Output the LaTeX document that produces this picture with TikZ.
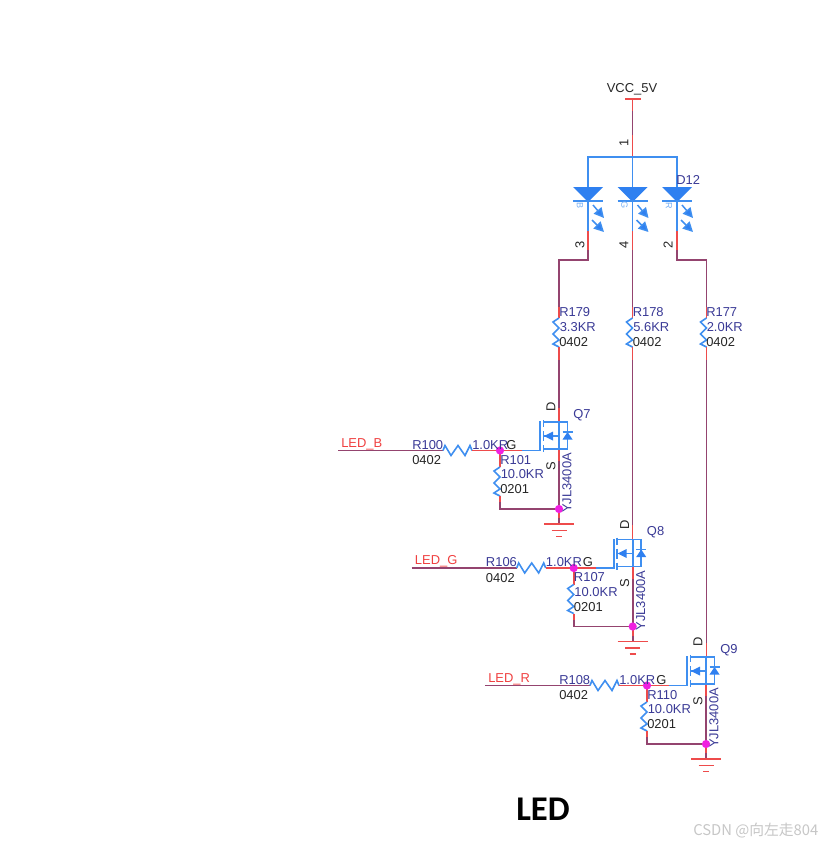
\documentclass[tikz,border=0pt]{standalone}
\usepackage{fontspec}
\setmainfont{Liberation Sans}
\newfontfamily\ledfont{Carlito}
\newfontfamily\cjkwm{Noto Sans CJK SC}
\usetikzlibrary{arrows.meta}
\definecolor{plum}{HTML}{94446F}
\definecolor{redw}{HTML}{EE4B4B}
\definecolor{bluew}{HTML}{3F8FF0}
\definecolor{bluef}{HTML}{2F80F0}
\definecolor{navyt}{HTML}{3A3A96}
\definecolor{darkt}{HTML}{262626}
\definecolor{redt}{HTML}{F04040}
\definecolor{magd}{HTML}{F020E0}
\tikzset{
  netw/.style={draw=plum,line width=1.3pt},
  redseg/.style={draw=redw,line width=1.3pt},
  bluep/.style={draw=bluew,line width=1.2pt,line join=miter},
  bluefill/.style={fill=bluef,draw=none},
  txt/.style={inner sep=0pt,anchor=west,yshift=-0.8pt,font=\fontsize{9.7pt}{10pt}\selectfont},
  refd/.style={txt,text=navyt},
  vald/.style={txt,text=darkt},
  nett/.style={txt,text=redt},
  pint/.style={inner sep=0pt,rotate=90,font=\fontsize{9.7pt}{10pt}\selectfont,text=darkt},
  partt/.style={inner sep=0pt,rotate=90,font=\fontsize{9.7pt}{10pt}\selectfont,text=navyt},
  junct/.style={circle,fill=magd,draw=none,inner sep=0pt,minimum size=6.2pt},
  lednum/.style={inner sep=0pt,rotate=-90,font=\fontsize{6.8pt}{7pt}\selectfont,text=bluew!70},
  ledarrow/.style={draw=bluew,line width=1.1pt,-{Stealth[length=7.5pt,width=7.5pt,inset=0pt,fill=bluef]}},
}
\newcommand{\vres}[2]{\draw[bluep] (#1) -- ++(-6,4) -- ++(6,6) -- ++(-6,6) -- ++(6,6) -- ++(-6,4) -- ++(6,3) coordinate (#2);}
% #1 suffix, #2 dx, #3 dy, #4 net, #5 R series, #6 R shunt, #7 Q, #8 G position
\newcommand{\stage}[8]{%
\begin{scope}[shift={(#2,#3)}]
  \coordinate (in#1) at (338,450.5);
  \coordinate (ra#1) at (443,450.5);
  \coordinate (rb#1) at (472,450.5);
  \coordinate (gj#1) at (500,450.5);
  \coordinate (ge#1) at (522,450.5);
  \coordinate (gt#1) at (540,450.5);
  \coordinate (sa#1) at (500,467);
  \coordinate (dt#1) at (559,422);
  \coordinate (st#1) at (559,449);
  \coordinate (gb#1) at (559,524);
  \coordinate (sb#1) at (500,509);
  % net wire
  \draw[netw] (in#1) -- (ra#1);
  \draw[bluep] (ra#1) -- ++(2,-5) -- ++(6,10) -- ++(7,-10) -- ++(7,10) -- ++(5,-10) -- (rb#1);
  \draw[redseg] (rb#1) -- (ge#1);
  \draw[bluep] (ge#1) -- (gt#1) -- (540,421);
  \draw[redseg] (gj#1) -- (sa#1);
  \vres{sa#1}{se#1}
  \draw[netw] (se#1) -- (sb#1) -- (559,509);
  \draw[redseg] (se#1) -- ++(0,6);
  \draw[netw] (st#1) -- (559,509);
  \draw[redseg] (st#1) -- ++(0,12);
  \draw[redseg] (559,509) -- (559,518);
  \draw[netw] (559,518) -- (gb#1);
  % ground
  \draw[redseg] (544,524) -- (574,524);
  \draw[redseg] (551.5,530.5) -- (566.5,530.5);
  \draw[redseg] (556,536.5) -- (562,536.5);
  % mosfet
  \draw[bluep] (543.5,420) -- (543.5,427);
  \draw[bluep] (543.5,431) -- (543.5,441);
  \draw[bluep] (543.5,445) -- (543.5,452);
  \draw[bluep] (543.5,422) -- (dt#1) -- (559,449) -- (543.5,449);
  \draw[bluep] (543.5,436) -- (559,436);
  \draw[bluep] (559,422) -- (567.5,422) -- (567.5,449) -- (559,449);
  \fill[bluefill] (544,436) -- (553,431.5) -- (553,440.5) -- cycle;
  \fill[bluefill] (567.5,432) -- (562.5,439.5) -- (572.5,439.5) -- cycle;
  \draw[bluep] (562.5,432) -- (572.5,432);
  \node[junct] (j1#1) at (gj#1) {};
  \node[junct] (j2#1) at (559,509) {};
  % texts
  \node[nett] (net#1) at (341,443) {#4};
  \node[refd] (ser#1) at (412,443.5) {#5};
  \node[refd] (serv#1) at (472,443.5) {1.0KR};
  \node[vald] (g#1) at (#8,443.5) {G};
  \node[vald] (serp#1) at (412,459) {0402};
  \node[refd] (shu#1) at (500,458.5) {#6};
  \node[refd] (shuv#1) at (500.5,473) {10.0KR};
  \node[vald] (shup#1) at (500,488) {0201};
  \node[pint] (d#1) at (551,407) {D};
  \node[pint] (s#1) at (551,466) {S};
  \node[refd] (q#1) at (573,414) {#7};
  \node[partt] (pt#1) at (567,483) {YJL3400A};
\end{scope}}
\begin{document}
\begin{tikzpicture}[x=0.75pt,y=-0.75pt]
\useasboundingbox (0,0) rectangle (834,846);
\fill[white] (0,0) rectangle (834,846);
% supply
\node[inner sep=0pt,font=\fontsize{9.7pt}{10pt}\selectfont,text=darkt] (vcc) at (632,89.5) {VCC\_5V};
\coordinate (vt) at (632.5,99);
\coordinate (vs) at (632.5,157);
\coordinate (bl) at (588,157);
\coordinate (br) at (677,157);
\draw[redseg] (625,99) -- (641,99);
\draw[netw] (vt) -- (vs);
\draw[redseg] (vt) -- ++(0,12);
\draw[redseg] (632.5,135) -- (vs);
\draw[bluep] (588,187) -- (bl) -- (br) -- (677,187);
\draw[bluep] (vs) -- (632.5,187);
\node[pint] (p1) at (624,143) {1};
% LEDs
\foreach \xx/\nm/\lt in {588/a/B,632.5/b/G,677/c/R}{
  \fill[bluefill] (\xx-15,187) -- (\xx+15,187) -- (\xx,202) -- cycle;
  \draw[bluep] (\xx-15,201) -- (\xx+15,201);
  \draw[bluep] (\xx,202) -- (\xx,231);
  \draw[ledarrow] (\xx+5,205) -- (\xx+16,218);
  \draw[ledarrow] (\xx+4,220) -- (\xx+16,232);
  \node[lednum] (l\nm) at (\xx-8,205.5) {\lt};
}
\node[refd] (d12) at (676,179) {D12};
% channels
\coordinate (lb) at (588,231);
\coordinate (lc) at (588,260);
\coordinate (ld) at (559,260);
\coordinate (le) at (559,318);
\coordinate (lf) at (559,347);
\draw[netw] (lb) -- (lc) -- (ld) -- (le);
\draw[redseg] (lb) -- (588,250);
\draw[redseg] (559,307) -- (le);
\vres{le}{lfz}
\draw[netw] (lfz) -- (559,422);
\draw[redseg] (lfz) -- ++(0,13);
\draw[redseg] (559,408) -- (559,422);
\coordinate (mb) at (632.5,231);
\coordinate (me) at (632.5,318);
\draw[netw] (mb) -- (me);
\draw[redseg] (mb) -- (632.5,250);
\draw[redseg] (632.5,307) -- (me);
\vres{me}{mfz}
\draw[netw] (mfz) -- (632.5,539.5);
\draw[redseg] (mfz) -- ++(0,13);
\draw[redseg] (632.5,525) -- (632.5,539.5);
\coordinate (rb) at (677,231);
\coordinate (rc) at (677,260);
\coordinate (rd) at (706.5,260);
\coordinate (re) at (706.5,318);
\draw[netw] (rb) -- (rc) -- (rd) -- (re);
\draw[redseg] (rb) -- (677,250);
\draw[redseg] (706.5,307) -- (re);
\vres{re}{rfz}
\draw[netw] (rfz) -- (706.5,657);
\draw[redseg] (rfz) -- ++(0,13);
\draw[redseg] (706.5,643) -- (706.5,657);
\node[pint] (p3) at (580,245) {3};
\node[pint] (p4) at (624,245) {4};
\node[pint] (p2) at (668,245) {2};
\foreach \xx/\a/\b/\nm in {559/R179/3.3KR/a,632.5/R178/5.6KR/b,706/R177/2.0KR/c}{
  \node[refd] (r\nm) at (\xx,311) {\a};
  \node[refd] (v\nm) at (\xx+0.5,326) {\b};
  \node[vald] (k\nm) at (\xx,341) {0402};
}
% stages
\stage{B}{0}{0}{LED\_B}{R100}{R101}{Q7}{506}
\stage{G}{73.7}{117.5}{LED\_G}{R106}{R107}{Q8}{509}
\stage{R}{147}{235}{LED\_R}{R108}{R110}{Q9}{509}
% title and mark
\node[inner sep=0pt,font=\ledfont\bfseries\fontsize{26pt}{27pt}\selectfont,text=black] (title) at (543,809) {LED};
\node[inner sep=0pt,anchor=west,font=\cjkwm\fontsize{11.1pt}{12pt}\selectfont,text=black!22] (mark) at (693,830.5) {CSDN @向左走804};
\end{tikzpicture}
\end{document}
